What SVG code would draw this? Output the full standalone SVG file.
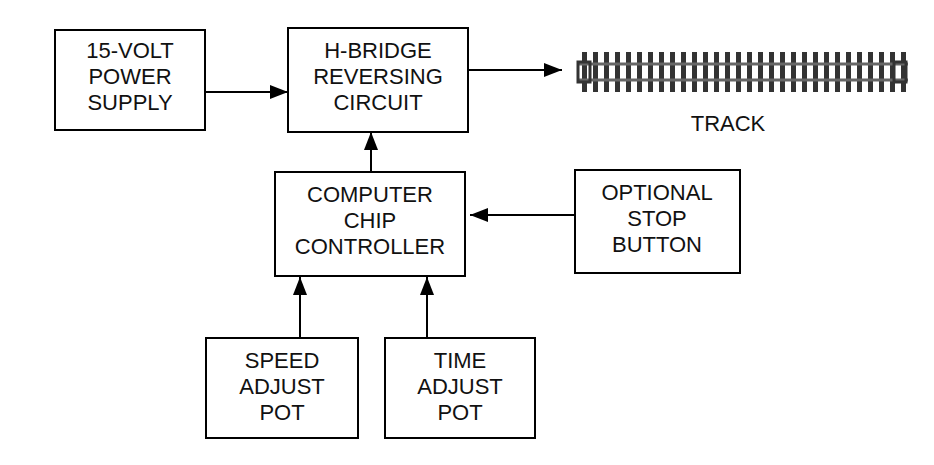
<svg xmlns="http://www.w3.org/2000/svg" width="934" height="465" viewBox="0 0 934 465">
<style>
.b{fill:#fff;stroke:#000;stroke-width:2}
.t{font-family:"Liberation Sans",Arial,sans-serif;font-size:22px;text-anchor:middle;fill:#111}
.c{stroke:#000;stroke-width:2;fill:none;marker-end:url(#a)}
</style>
<defs>
<marker id="a" viewBox="0 0 18 14" refX="18" refY="7" markerWidth="18" markerHeight="14" markerUnits="userSpaceOnUse" orient="auto"><path d="M0,0L18,7L0,14z"/></marker>
<pattern id="ties" x="580" y="0" width="11" height="465" patternUnits="userSpaceOnUse"><rect x="2" y="52" width="5" height="40" fill="#333"/></pattern>
</defs>
<rect width="934" height="465" fill="#fff"/>
<g id="n1"><rect class="b" x="55" y="30" width="150" height="100"/><text class="t" x="130" y="58">15-VOLT</text><text class="t" x="130" y="84">POWER</text><text class="t" x="130" y="110">SUPPLY</text></g>
<g id="n2"><rect class="b" x="288" y="28" width="180" height="104"/><text class="t" x="378" y="58">H-BRIDGE</text><text class="t" x="378" y="84">REVERSING</text><text class="t" x="378" y="110">CIRCUIT</text></g>
<g id="n3"><rect class="b" x="275" y="172" width="190" height="104"/><text class="t" x="370" y="202">COMPUTER</text><text class="t" x="370" y="228">CHIP</text><text class="t" x="370" y="254">CONTROLLER</text></g>
<g id="n4"><rect class="b" x="575" y="170" width="165" height="103"/><text class="t" x="657" y="200">OPTIONAL</text><text class="t" x="657" y="226">STOP</text><text class="t" x="657" y="252">BUTTON</text></g>
<g id="n5"><rect class="b" x="206" y="338" width="152" height="100"/><text class="t" x="282" y="368">SPEED</text><text class="t" x="282" y="394">ADJUST</text><text class="t" x="282" y="420">POT</text></g>
<g id="n6"><rect class="b" x="385" y="338" width="150" height="100"/><text class="t" x="460" y="368">TIME</text><text class="t" x="460" y="394">ADJUST</text><text class="t" x="460" y="420">POT</text></g>
<g id="track">
<rect x="580" y="52" width="328" height="40" fill="url(#ties)"/>
<line x1="578" y1="64" x2="908" y2="64" stroke="#666" stroke-width="3"/>
<line x1="578" y1="80" x2="908" y2="80" stroke="#666" stroke-width="3"/>
<rect x="578" y="62" width="12" height="20" fill="none" stroke="#333" stroke-width="3"/>
<rect x="894" y="62" width="12" height="20" fill="none" stroke="#333" stroke-width="3"/>
<text class="t" x="728" y="131">TRACK</text>
</g>
<g id="connectors">
<path class="c" d="M205,92H288"/>
<path class="c" d="M468,70H562"/>
<path class="c" d="M371,172V132"/>
<path class="c" d="M575,215H470"/>
<path class="c" d="M300,338V277"/>
<path class="c" d="M427,338V277"/>
</g>
</svg>
